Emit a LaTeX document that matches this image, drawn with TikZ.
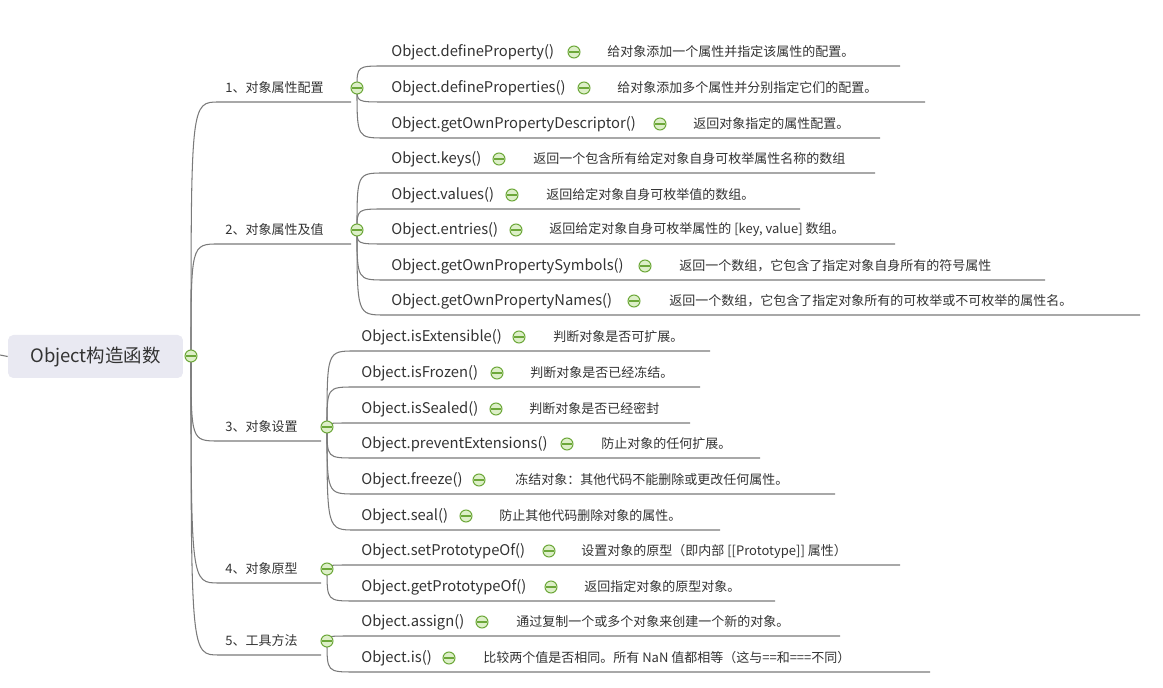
\documentclass[tikz,border=0pt]{standalone}
\usepackage{fontspec}
\setmainfont{Noto Sans CJK SC}
\usetikzlibrary{calc}
\pgfdeclarelayer{bg}
\pgfsetlayers{bg,main}
\definecolor{icog}{HTML}{6DA83A}
\definecolor{icof}{HTML}{DDEFC8}
\definecolor{tx}{HTML}{333333}
\definecolor{lnc}{HTML}{7A7A7A}
\definecolor{rootf}{HTML}{E9E9F2}
\tikzset{
 txt/.style={anchor=west,inner sep=0,text=tx,font=\fontsize{7.4pt}{9pt}\selectfont},
 mtxt/.style={txt,font=\fontsize{8.4pt}{10pt}\selectfont},
 ico/.style={circle,draw=icog,fill=icof,inner sep=0,minimum size=0.24cm,line width=0.6pt,
   path picture={\draw[icog,line width=0.7pt] ([xshift=-2.6pt]path picture bounding box.center) -- ([xshift=2.6pt]path picture bounding box.center);}},
 ln/.style={draw=lnc,line width=0.6pt},
}
\newcommand\mleaf[9]{%
 \node[mtxt] (#1) at (#3,#4) {#5};
 \node[ico] (#1i) at (#6,#4) {};
 \node[txt] (#1d) at (#7,#4) {#8};
 \coordinate (#1e) at (#9,#4+14);
 \begin{pgfonlayer}{bg}
 \draw[ln] (#2.center) .. controls (#2.center |- #1e) .. ($(#2.center |- #1e)+(28,0)$) -- (#1e);
 \end{pgfonlayer}
}
\newcommand\mbranch[5]{%
 \node[txt] (#1) at (225,#3) {#4};
 \node[ico] (#1i) at (#5,#3) {};
 \coordinate (#1e) at (#5-6,#3+14);
 \begin{pgfonlayer}{bg}
 \draw[ln] (#2.center) .. controls (#2.center |- #1e) .. ($(#2.center |- #1e)+(28,0)$) -- (#1e);
 \end{pgfonlayer}
}
\begin{document}
\begin{tikzpicture}[x=0.02cm,y=-0.02cm]
\useasboundingbox (0,0) rectangle (1163,688);
\node[rounded corners=3pt,fill=rootf,minimum width=3.5cm,minimum height=0.86cm,text=tx,font=\fontsize{10.5pt}{12pt}\selectfont] (root) at (95.5,356.5) {Object构造函数};
\coordinate (lft) at (0,355);
\draw[ln] (lft) -- (root.west);
\node[ico] (rooti) at (191,356) {};
\mbranch{b1}{rooti}{88}{1、对象属性配置}{357}
\mbranch{b2}{rooti}{230}{2、对象属性及值}{357}
\mbranch{b3}{rooti}{427}{3、对象设置}{327}
\mbranch{b4}{rooti}{569}{4、对象原型}{327}
\mbranch{b5}{rooti}{641}{5、工具方法}{327}
\mleaf{a1}{b1i}{391}{52}{Object.defineProperty()}{574}{607}{给对象添加一个属性并指定该属性的配置。}{900}
\mleaf{a2}{b1i}{391}{88}{Object.defineProperties()}{584}{617}{给对象添加多个属性并分别指定它们的配置。}{925}
\mleaf{a3}{b1i}{391}{124}{Object.getOwnPropertyDescriptor()}{660}{693}{返回对象指定的属性配置。}{880}
\mleaf{c1}{b2i}{391}{159}{Object.keys()}{499}{533}{返回一个包含所有给定对象自身可枚举属性名称的数组}{875}
\mleaf{c2}{b2i}{391}{195}{Object.values()}{512}{546}{返回给定对象自身可枚举值的数组。}{800}
\mleaf{c3}{b2i}{391}{230}{Object.entries()}{516}{549}{返回给定对象自身可枚举属性的 [key, value] 数组。}{895}
\mleaf{c4}{b2i}{391}{266}{Object.getOwnPropertySymbols()}{645}{679}{返回一个数组，它包含了指定对象自身所有的符号属性}{1045}
\mleaf{c5}{b2i}{391}{301}{Object.getOwnPropertyNames()}{634}{669}{返回一个数组，它包含了指定对象所有的可枚举或不可枚举的属性名。}{1140}
\mleaf{d1}{b3i}{361}{337}{Object.isExtensible()}{519}{553}{判断对象是否可扩展。}{710}
\mleaf{d2}{b3i}{361}{373}{Object.isFrozen()}{497}{530}{判断对象是否已经冻结。}{700}
\mleaf{d3}{b3i}{361}{409}{Object.isSealed()}{496}{529}{判断对象是否已经密封}{690}
\mleaf{d4}{b3i}{361}{444}{Object.preventExtensions()}{567}{601}{防止对象的任何扩展。}{760}
\mleaf{d5}{b3i}{361}{480}{Object.freeze()}{479}{515}{冻结对象：其他代码不能删除或更改任何属性。}{835}
\mleaf{d6}{b3i}{361}{516}{Object.seal()}{466}{499}{防止其他代码删除对象的属性。}{720}
\mleaf{e1}{b4i}{361}{551}{Object.setPrototypeOf()}{549}{581}{设置对象的原型（即内部 [[Prototype]] 属性）}{900}
\mleaf{e2}{b4i}{361}{587}{Object.getPrototypeOf()}{551}{584}{返回指定对象的原型对象。}{775}
\mleaf{f1}{b5i}{361}{622}{Object.assign()}{482}{516}{通过复制一个或多个对象来创建一个新的对象。}{840}
\mleaf{f2}{b5i}{361}{658}{Object.is()}{449}{483}{比较两个值是否相同。所有 NaN 值都相等（这与==和===不同）}{930}
\end{tikzpicture}
\end{document}
